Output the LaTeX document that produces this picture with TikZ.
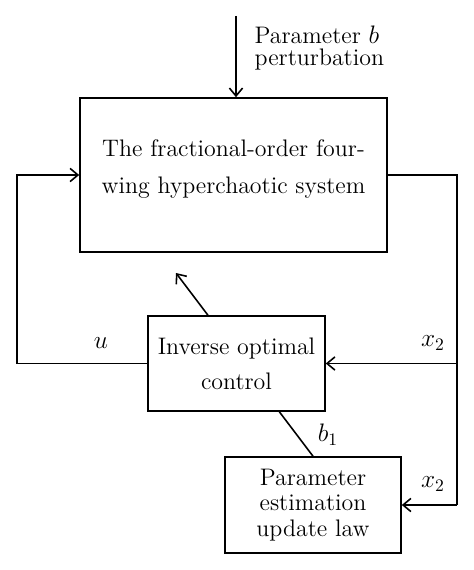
\documentclass[tikz,border=0pt]{standalone}
\usepackage{amsmath}
\usepackage{amssymb}
\usetikzlibrary{calc,arrows.meta}

\begin{document}
\begin{tikzpicture}[font=\fontsize{13.6}{15.5}\selectfont,line width=0.9pt,
		>={Straight Barb[length=4.5pt,width=7.5pt]},
		blk/.style={draw,align=center}]
		\useasboundingbox (0,0) rectangle (9.48,11.4);
		\node[blk,minimum width=6.14cm,minimum height=3.08cm] (sys) at (4.67,7.9) {The fractional-order four-\\[6pt]wing hyperchaotic system\\[-6pt]};
		\node[blk,minimum width=3.54cm,minimum height=1.9cm] (ioc) at (4.73,4.13) {Inverse optimal\\[4.5pt]control};
		\node[blk,minimum width=3.52cm,minimum height=1.92cm] (peul) at (6.26,1.3) {Parameter\\[-1pt]estimation\\[-1pt]update law};
		\coordinate (pin) at (4.72,11.08);
		\coordinate (lft) at (0.34,0);
		\coordinate (rgt) at (9.14,0);
		\coordinate (fb) at (3.52,5.94);
		\node[align=left,anchor=west] (pb) at (4.96,10.43) {Parameter $b$\\[-3pt]perturbation};
		\node (u) at (2.02,4.54) {$u$};
		\node (xa) at (8.66,4.54) {$x_2$};
		\node (xb) at (8.66,1.72) {$x_2$};
		\node (b1) at (6.56,2.7) {$b_1$};
		\draw[->] (pin) -- (pin |- sys.north);
		\draw[->] (ioc.west) -- (ioc.west -| lft) |- (sys.west);
		\draw (sys.east) -- (sys.east -| rgt) -- (peul.east -| rgt);
		\draw[->] (ioc.east -| rgt) -- (ioc.east);
		\draw[->] (peul.east -| rgt) -- (peul.east);
		\draw[->] ($(ioc.north west)!0.34!(ioc.north east)$) -- (fb);
		\draw ($(ioc.south west)!0.74!(ioc.south east)$) -- (peul.north);
\end{tikzpicture}
\end{document}
